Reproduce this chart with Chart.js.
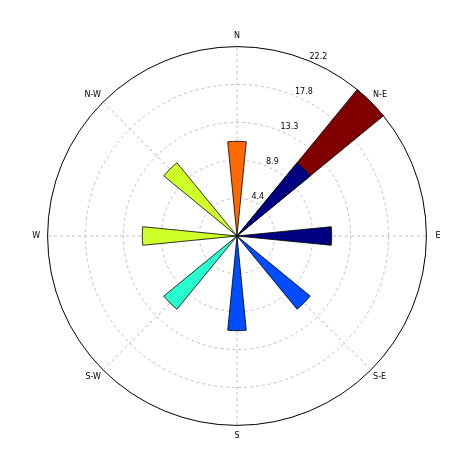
<!DOCTYPE html>
<html>
<head>
<meta charset="utf-8">
<script src="https://cdn.jsdelivr.net/npm/chart.js@4.4.0/dist/chart.umd.min.js"></script>
<style>
  html, body { margin: 0; padding: 0; background: #fff; }
  #wrap { width: 474px; height: 474px; }
</style>
</head>
<body>
<div id="wrap"><canvas id="rose"></canvas></div>
<script>
const directions = ['N', 'N-E', 'E', 'S-E', 'S', 'S-W', 'W', 'N-W'];
// frequency (%) per speed bin, in the same order as directions
const bin0 = [0, 11.11, 11.11, 0, 0, 0, 0, 0];
const bin1 = [0, 0, 0, 11.11, 11.11, 0, 0, 0];
const bin2 = [0, 0, 0, 0, 0, 11.11, 0, 0];
const bin3 = [0, 0, 0, 0, 0, 0, 11.11, 11.11];
const bin4 = [11.11, 0, 0, 0, 0, 0, 0, 0];
const bin5 = [0, 11.11, 0, 0, 0, 0, 0, 0];
const binColors = ['#000080', '#004cff', '#29ffce', '#ceff29', '#ff6800', '#800000'];
const tickValues = [0, 4.44, 8.89, 13.33, 17.78, 22.22];
const tickLabels = ['', '4.4', '8.9', '13.3', '17.8', '22.2'];
const rMax = 22.22;

const bins = [bin0, bin1, bin2, bin3, bin4, bin5];
const sector = 360 / directions.length;
const opening = 11.25;      // bar width in degrees
const labelAngle = 22.5;    // where the radius labels sit
const slot = opening / 2;

// point label slots every half bar width, so the names land on the bar centres
const slotLabels = [];
for (let i = 0; i < 360 / slot; i++) slotLabels.push('');
directions.forEach((d, i) => { slotLabels[1 + i * sector / slot] = d; });

// gap between circle and direction name
function labelPad(label) {
  if (!label) return 0;
  if (label.length > 1) return 3;
  if (label === 'E') return 9;
  if (label === 'W') return 7.5;
  return 6;
}

// each direction = one bar element followed by an empty gap element
function withGaps(values) {
  const out = [];
  values.forEach(v => out.push(v, 0));
  return out;
}

// stacked bars: dataset b holds the cumulative total up to bin b,
// inner bins come first so they are drawn on top
const datasets = bins.map((bin, b) => {
  const cum = directions.map((d, i) => {
    if (!bin[i]) return 0;
    let s = 0;
    for (let k = 0; k <= b; k++) s += bins[k][i];
    return s;
  });
  return {
    data: withGaps(cum),
    backgroundColor: binColors[b],
    borderColor: '#000',
    borderWidth: ctx => (ctx.dataIndex % 2 === 0 && ctx.raw > 0) ? 0.8 : 0,
    angle: ctx => ctx.dataIndex % 2 === 0 ? opening : sector - opening
  };
});

const radiusLabels = {
  id: 'radiusLabels',
  afterDraw(chart) {
    const s = chart.scales.r;
    const c = chart.ctx;
    const a = labelAngle * Math.PI / 180;
    c.save();
    c.font = '8px "DejaVu Sans"';
    c.fillStyle = '#000';
    c.textAlign = 'left';
    c.textBaseline = 'bottom';
    tickValues.forEach((v, i) => {
      if (!tickLabels[i]) return;
      const d = s.getDistanceFromCenterForValue(v);
      c.fillText(tickLabels[i], s.xCenter + d * Math.sin(a), s.yCenter - d * Math.cos(a));
    });
    c.restore();
  }
};

const last = tickValues.length - 1;

new Chart(document.getElementById('rose'), {
  type: 'polarArea',
  data: { labels: slotLabels, datasets: datasets },
  options: {
    responsive: true,
    maintainAspectRatio: false,
    animation: false,
    layout: { padding: 32 },
    plugins: { legend: { display: false }, tooltip: { enabled: false } },
    scales: {
      r: {
        min: 0,
        max: rMax,
        startAngle: -opening / 2,
        z: 1,
        afterBuildTicks: s => { s.ticks = tickValues.map(v => ({ value: v })); },
        ticks: { display: false },
        grid: {
          circular: true,
          color: ctx => ctx.index === last ? '#000' : '#b0b0b0',
          lineWidth: ctx => ctx.index === last ? 1 : 0.8
        },
        border: { dash: ctx => ctx.index === last ? [] : [3, 3] },
        angleLines: {
          display: true,
          color: '#b0b0b0',
          lineWidth: ctx => ctx.label ? 0.8 : 0,
          borderDash: [3, 3]
        },
        pointLabels: {
          display: true,
          color: '#000',
          font: { family: 'DejaVu Sans', size: 8 },
          padding: ctx => labelPad(ctx.label)
        }
      }
    }
  },
  plugins: [radiusLabels]
});
</script>
</body>
</html>
